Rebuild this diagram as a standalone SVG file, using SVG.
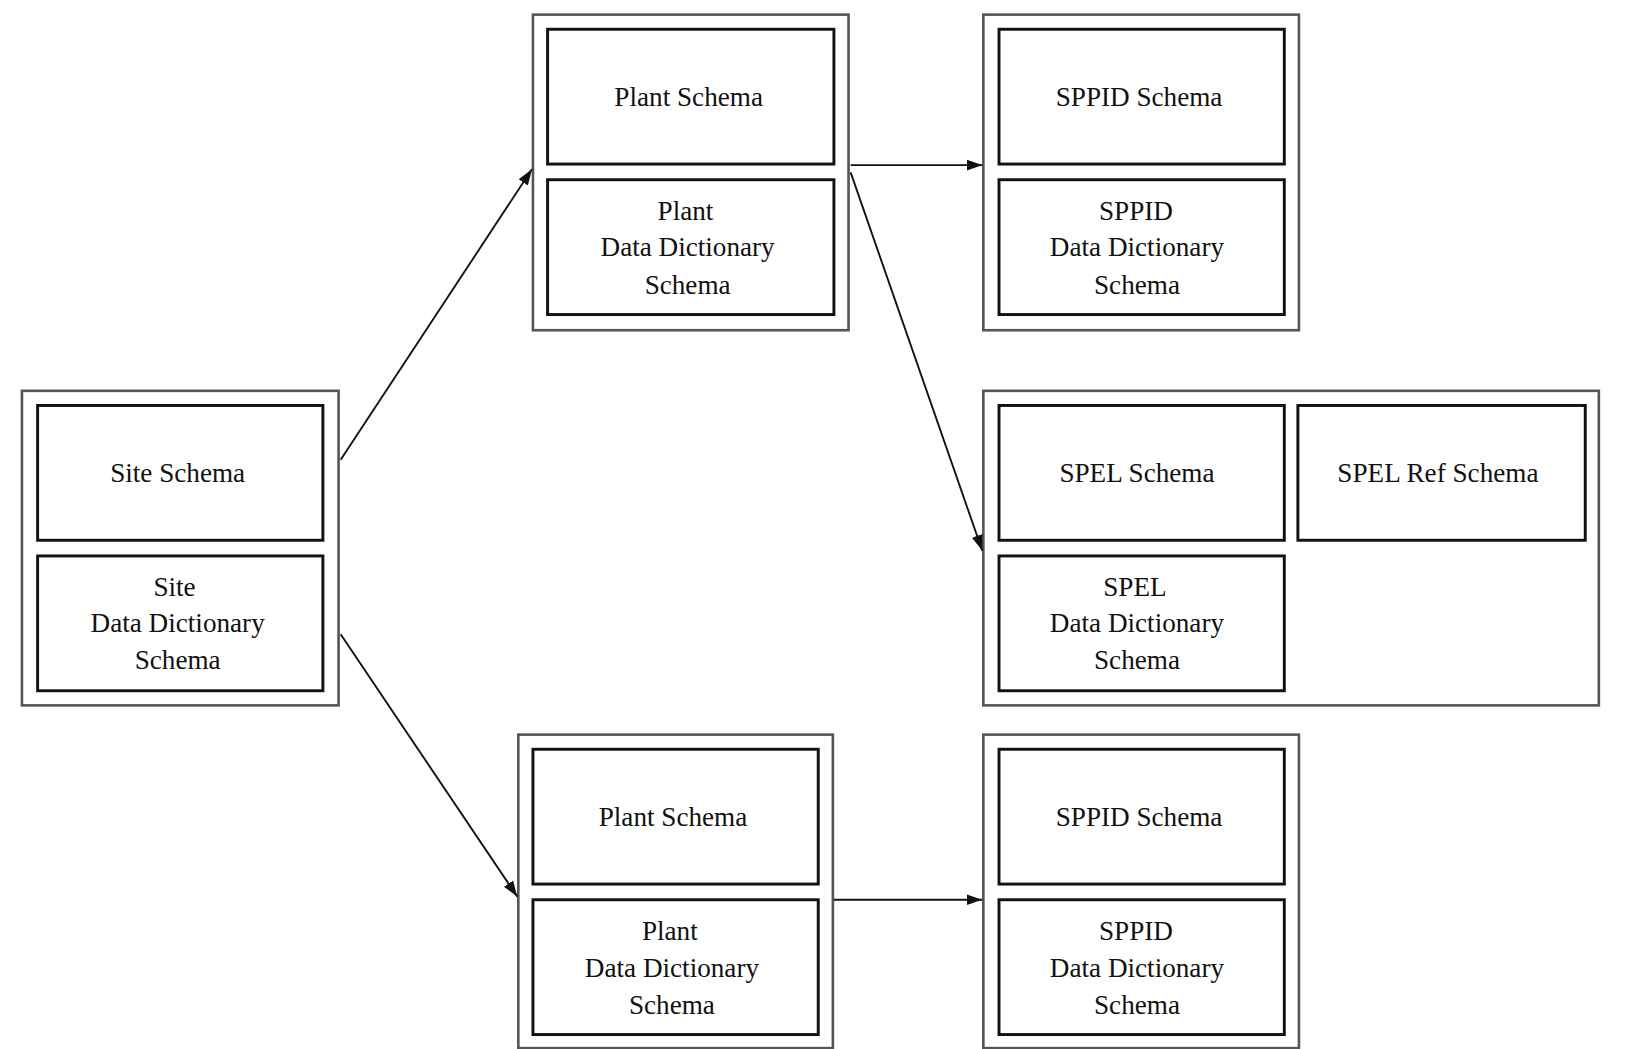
<svg xmlns="http://www.w3.org/2000/svg" width="1635" height="1049" viewBox="0 0 1635 1049">
<style>
.o{fill:none;stroke:#555;stroke-width:2.5}
.i{fill:none;stroke:#111;stroke-width:2.8}
text{font-family:"Liberation Serif","DejaVu Serif",serif;font-size:26px;fill:#111;text-anchor:middle}
.c line{stroke:#111;stroke-width:1.8;marker-end:url(#a)}
</style>
<defs><marker id="a" viewBox="0 0 10 10" refX="10" refY="5" markerWidth="15" markerHeight="15" orient="auto" markerUnits="userSpaceOnUse"><path d="M0,1.5 L10,5 L0,8.5 z" fill="#111"/></marker></defs>
<rect width="1635" height="1049" fill="#fff"/>
<g transform="scale(1.045)">
<g id="site"><rect class="o" x="21" y="374" width="303" height="301"/><rect class="i" x="36" y="388" width="273" height="129"/><rect class="i" x="36" y="532" width="273" height="129"/>
<text x="170" y="461">Site Schema</text><text x="167" y="570">Site</text><text x="170" y="605">Data Dictionary</text><text x="170" y="640">Schema</text></g>
<g id="plant1"><rect class="o" x="510" y="14" width="302" height="302"/><rect class="i" x="524" y="28" width="274" height="129"/><rect class="i" x="524" y="172" width="274" height="129"/>
<text x="659" y="101">Plant Schema</text><text x="656" y="211">Plant</text><text x="658" y="245">Data Dictionary</text><text x="658" y="281">Schema</text></g>
<g id="sppid1"><rect class="o" x="941" y="14" width="302" height="302"/><rect class="i" x="956" y="28" width="273" height="129"/><rect class="i" x="956" y="172" width="273" height="129"/>
<text x="1090" y="101">SPPID Schema</text><text x="1087" y="211">SPPID</text><text x="1088" y="245">Data Dictionary</text><text x="1088" y="281">Schema</text></g>
<g id="spel"><rect class="o" x="941" y="374" width="589" height="301"/><rect class="i" x="956" y="388" width="273" height="129"/><rect class="i" x="1242" y="388" width="275" height="129"/><rect class="i" x="956" y="532" width="273" height="129"/>
<text x="1088" y="461">SPEL Schema</text><text x="1376" y="461">SPEL Ref Schema</text><text x="1086" y="570">SPEL</text><text x="1088" y="605">Data Dictionary</text><text x="1088" y="640">Schema</text></g>
<g id="plant2"><rect class="o" x="496" y="703" width="301" height="300"/><rect class="i" x="510" y="717" width="273" height="129"/><rect class="i" x="510" y="861" width="273" height="129"/>
<text x="644" y="790">Plant Schema</text><text x="641" y="900">Plant</text><text x="643" y="935">Data Dictionary</text><text x="643" y="970">Schema</text></g>
<g id="sppid2"><rect class="o" x="941" y="703" width="302" height="300"/><rect class="i" x="956" y="717" width="273" height="129"/><rect class="i" x="956" y="861" width="273" height="129"/>
<text x="1090" y="790">SPPID Schema</text><text x="1087" y="900">SPPID</text><text x="1088" y="935">Data Dictionary</text><text x="1088" y="970">Schema</text></g>
<g class="c" id="connectors">
<line x1="326" y1="440" x2="509" y2="162"/>
<line x1="814" y1="158" x2="940" y2="158"/>
<line x1="814" y1="165" x2="940" y2="527"/>
<line x1="326" y1="607" x2="495" y2="858"/>
<line x1="798" y1="861" x2="940" y2="861"/>
</g>
</g>
</svg>
